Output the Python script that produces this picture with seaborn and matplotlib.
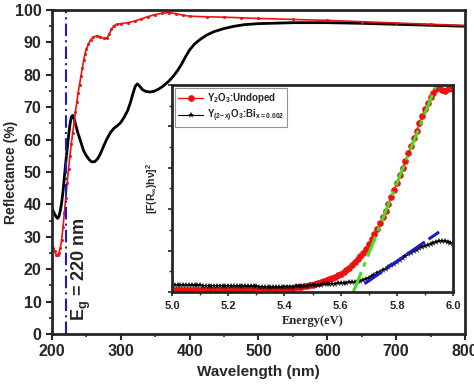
import numpy as np
import pandas as pd
import matplotlib
matplotlib.use("Agg")
import matplotlib.pyplot as plt
from matplotlib.ticker import MultipleLocator
import seaborn as sns

# ---------------- data: main reflectance spectra ----------------
wl_undoped = [200, 202, 204, 206, 208, 210, 212, 214, 216, 218, 220, 222, 224, 226, 228,
              230, 232, 234, 236, 238, 240, 242, 244, 246, 248, 250, 253, 256, 260, 265,
              270, 275, 280, 283, 286, 290, 295, 300, 310, 320, 330, 340, 350, 360, 370,
              380, 390, 400, 425, 450, 475, 500, 550, 600, 650, 700, 750, 800]
refl_undoped = [27, 26.5, 25.5, 24.5, 24.3, 25, 26.5, 29, 33, 37.5, 42, 46.5, 51, 55, 58.5,
                62, 65, 68.5, 71.5, 74.5, 77, 79.5, 82, 84.5, 86.5, 88, 89.5, 90.8, 91.7, 92,
                91.8, 91.3, 91.4, 92.5, 94, 95.2, 95.6, 95.8, 96.1, 96.6, 97.3, 98, 98.6, 99, 99.2,
                98.9, 98.4, 98.1, 97.9, 97.8, 97.6, 97.4, 97.1, 96.8, 96.4, 96.0, 95.6, 95.2]

wl_bi = [200, 202, 204, 206, 208, 210, 212, 214, 216, 218, 220, 222, 224, 226, 228, 230,
         232, 234, 237, 240, 243, 246, 250, 254, 258, 262, 266, 270, 275, 280, 285, 290,
         295, 300, 305, 310, 314, 318, 321, 324, 327, 331, 336, 342, 348, 355, 362, 370,
         376, 382, 388, 394, 400, 407, 415, 425, 435, 450, 465, 480, 500, 550, 600, 650,
         700, 750, 800]
refl_bi = [39, 37.8, 37, 36.2, 35.7, 36.2, 38, 40.5, 44, 48.5, 53, 57, 61, 64.5, 67, 67.5,
           66.5, 65, 62.5, 60.5, 58.5, 56.5, 55, 53.8, 53.1, 53.2, 54, 55.5, 58, 60.3, 62.2, 63.5,
           64.3, 65.3, 67, 69, 71.5, 74.5, 76.5, 77.2, 76.6, 75.5, 74.9, 74.7, 74.9, 75.6, 76.6, 78.1,
           79.5, 81.2, 83.2, 85.6, 87.7, 89.5, 90.9, 92.3, 93.3, 94.3, 95.0, 95.5, 95.8, 96.1, 96.1, 95.9,
           95.6, 95.3, 95.0]

eg_wavelength = 220

# ---------------- data: inset Kubelka-Munk ----------------
energy = [round(5.0 + 0.01 * i, 2) for i in range(101)]
km_undoped = ([0.011] * 31 +
              [0.012, 0.012, 0.013, 0.013, 0.014, 0.014, 0.015, 0.015, 0.016, 0.017,
               0.018, 0.019, 0.020, 0.022, 0.023, 0.025, 0.027, 0.029, 0.032, 0.035,
               0.038, 0.042, 0.046, 0.051, 0.056, 0.062, 0.068, 0.074, 0.080, 0.088,
               0.097, 0.107, 0.118, 0.130, 0.144, 0.158, 0.173, 0.190, 0.210, 0.232,
               0.255, 0.280, 0.305, 0.332, 0.362, 0.392, 0.425, 0.458, 0.492, 0.528,
               0.563, 0.598, 0.634, 0.670, 0.706, 0.742, 0.778, 0.815, 0.850, 0.885,
               0.915, 0.940, 0.962, 0.980, 0.990, 0.975, 0.972, 0.978, 0.985, 0.982])
km_bi = ([0.034, 0.034, 0.034, 0.033, 0.033, 0.033, 0.033, 0.032, 0.032, 0.032,
          0.032, 0.031, 0.031, 0.031, 0.031, 0.030, 0.030, 0.030, 0.030, 0.029,
          0.029, 0.029, 0.029, 0.028, 0.028, 0.028, 0.028, 0.027, 0.027, 0.027,
          0.027, 0.026, 0.026, 0.026, 0.026, 0.025, 0.025, 0.025, 0.025, 0.024,
          0.024] +
         [0.025, 0.025, 0.026, 0.027, 0.028, 0.029, 0.030, 0.031, 0.032, 0.033,
          0.034, 0.035, 0.036, 0.037, 0.038, 0.039, 0.040, 0.041, 0.042, 0.043,
          0.044, 0.045, 0.046, 0.047, 0.049, 0.051, 0.054, 0.058, 0.063, 0.069,
          0.076, 0.083, 0.090, 0.097, 0.105, 0.113, 0.121, 0.129, 0.137, 0.146,
          0.155, 0.164, 0.173, 0.182, 0.190, 0.198, 0.205, 0.212, 0.218, 0.223,
          0.228, 0.232, 0.237, 0.241, 0.245, 0.247, 0.244, 0.240, 0.237, 0.236])

fit_undoped_x = [5.645, 5.94]
fit_undoped_y = [0.0, 1.0]
fit_bi_x = [5.685, 5.95]
fit_bi_y = [0.04, 0.29]

legend_labels = [r"Y$_{2}$O$_{3}$:Undoped", r"Y$_{(2\!-\!x)}$O$_{3}$:Bi$_{x=0.002}$"]

# ---------------- style ----------------
sns.set_style("ticks")
plt.rcParams["font.family"] = ["Liberation Sans", "DejaVu Sans"]
plt.rcParams["font.weight"] = "bold"
plt.rcParams["axes.labelweight"] = "bold"
plt.rcParams["mathtext.fontset"] = "custom"
plt.rcParams["mathtext.rm"] = "Liberation Sans:bold"
plt.rcParams["mathtext.it"] = "Liberation Sans:bold"
plt.rcParams["mathtext.bf"] = "Liberation Sans:bold"
plt.rcParams["mathtext.default"] = "bf"

RED = "#ee1111"
BLUE = "#1a1acc"
GREEN = "#44dd22"

fig = plt.figure(figsize=(4.74, 3.86), dpi=100)
ax = fig.add_axes([0.1097, 0.1347, 0.8713, 0.8393])

df_u = pd.DataFrame({"wl": wl_undoped, "R": refl_undoped})
df_b = pd.DataFrame({"wl": wl_bi, "R": refl_bi})

sns.lineplot(data=df_b, x="wl", y="R", ax=ax, color="black", linewidth=2.0)
sns.lineplot(data=df_u, x="wl", y="R", ax=ax, color=RED, linewidth=1.2,
             marker="o", markersize=2.2, markeredgewidth=0)
ax.axvline(eg_wavelength, color=BLUE, linestyle=(0, (6, 2, 1, 2)), linewidth=1.5)
ax.text(242, 20, r"E$_{g}$ = 220 nm", rotation=90, ha="center", va="center",
        fontsize=13, fontweight="bold")

ax.set_xlim(200, 800)
ax.set_ylim(0, 100)
ax.xaxis.set_major_locator(MultipleLocator(100))
ax.xaxis.set_minor_locator(MultipleLocator(50))
ax.yaxis.set_major_locator(MultipleLocator(10))
ax.yaxis.set_minor_locator(MultipleLocator(5))
ax.tick_params(which="major", direction="out", length=4, width=1.5, labelsize=11.5)
ax.tick_params(which="minor", direction="out", length=2.5, width=1.2)
for t in ax.get_xticklabels() + ax.get_yticklabels():
    t.set_fontweight("bold")
ax.set_xlabel("Wavelength (nm)", fontsize=11, fontweight="bold", labelpad=4)
ax.set_ylabel("Reflectance (%)", fontsize=10, fontweight="bold")
ax.yaxis.set_label_coords(-0.083, 0.5)
for s in ax.spines.values():
    s.set_linewidth(2)
    s.set_visible(True)

# ---------------- inset ----------------
axi = fig.add_axes([0.363, 0.2435, 0.593, 0.5365])
axi.set_facecolor("white")
df_ku = pd.DataFrame({"E": energy, "K": km_undoped})
df_kb = pd.DataFrame({"E": energy, "K": km_bi})
sns.lineplot(data=df_ku, x="E", y="K", ax=axi, color=RED, linewidth=1.0,
             marker="o", markersize=4.8, markeredgewidth=0, label=legend_labels[0])
sns.lineplot(data=df_kb, x="E", y="K", ax=axi, color="black", linewidth=0.8,
             marker="*", markersize=4.5, markeredgewidth=0, label=legend_labels[1])
axi.plot(fit_undoped_x, fit_undoped_y, color=GREEN, linewidth=2.2,
         linestyle=(0, (7, 2, 1.5, 2)))
axi.plot(fit_bi_x, fit_bi_y, color=BLUE, linewidth=2.2, linestyle=(0, (7, 1.5)))

axi.set_xlim(5.0, 6.0)
axi.set_ylim(0, 1.0)
axi.xaxis.set_major_locator(MultipleLocator(0.2))
axi.xaxis.set_minor_locator(MultipleLocator(0.1))
axi.yaxis.set_major_locator(MultipleLocator(0.2))
axi.yaxis.set_minor_locator(MultipleLocator(0.1))
axi.set_yticklabels([])
axi.tick_params(which="major", direction="out", length=3, width=1.2, labelsize=8)
axi.tick_params(which="minor", direction="out", length=2, width=1.0)
axi.set_xticks(axi.get_xticks())
axi.set_xticklabels([f"{v:.1f}" for v in axi.get_xticks()], fontweight="bold", fontsize=8)
axi.set_xlim(5.0, 6.0)
axi.set_xlabel("Energy(eV)", fontsize=9, fontweight="bold",
               fontfamily="Liberation Serif", labelpad=3)
axi.set_ylabel(r"[F(R$_{\infty}$)h$\nu$]$^{2}$", fontsize=7.5, labelpad=2,
               fontfamily="Liberation Sans")
for s in axi.spines.values():
    s.set_linewidth(2)
    s.set_visible(True)

leg = axi.legend(loc="upper left", fontsize=7, frameon=True, fancybox=False,
                 edgecolor="#777777", handlelength=2.5, borderpad=0.3,
                 labelspacing=0.25, handletextpad=0.4, borderaxespad=0.35)
leg.get_frame().set_linewidth(0.8)
for t in leg.get_texts():
    t.set_fontweight("bold")

fig.savefig("out.png", dpi=100)
